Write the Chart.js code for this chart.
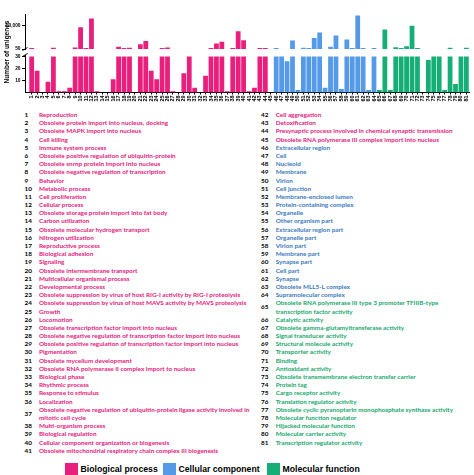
<!DOCTYPE html>
<html>
<head>
<meta charset="utf-8">
<script src="https://cdn.jsdelivr.net/npm/chart.js@4.4.1/dist/chart.umd.min.js"></script>
<style>
  body { margin: 0; background: #fff; width: 474px; height: 475px; overflow: hidden; position: relative; font-family: Lato, "Liberation Sans", sans-serif; }
  #plot { position: absolute; left: 0; top: 0; }
  .terms { position: absolute; top: 111px; font-size: 6.35px; font-weight: bold; line-height: 8.18px; }
  .terms .row { display: flex; align-items: center; }
  .terms .num { flex: 0 0 auto; color: #000; }
  .terms .txt { white-space: pre; }
  .legend { position: absolute; top: 462px; height: 13px; font-family: "Liberation Sans", Arial, sans-serif; font-weight: bold; font-size: 8.7px; color: #000; }
  .legend i { position: absolute; top: 1px; width: 13px; height: 12px; }
  .legend span { position: absolute; top: 1.5px; white-space: nowrap; }
</style>
</head>
<body>
<canvas id="plot" width="474" height="110"></canvas>
<div class="terms" id="colLeft" style="left:24.5px"></div>
<div class="terms" id="colRight" style="left:261px"></div>
<div id="legend"></div>
<script>
// Названия GO-терминов (подписи под графиком)
const termNames = [
  "Reproduction",
  "Obsolete protein import into nucleus, docking",
  "Obsolete MAPK import into nucleus",
  "Cell killing",
  "Immune system process",
  "Obsolete positive regulation of ubiquitin-protein",
  "Obsolete snrnp protein import into nucleus",
  "Obsolete negative regulation of transcription",
  "Behavior",
  "Metabolic process",
  "Cell proliferation",
  "Cellular process",
  "Obsolete storage protein import into fat body",
  "Carbon utilization",
  "Obsolete molecular hydrogen transport",
  "Nitrogen utilization",
  "Reproductive process",
  "Biological adhesion",
  "Signaling",
  "Obsolete intermembrane transport",
  "Multicellular organismal process",
  "Developmental process",
  "Obsolete suppression by virus of host RIG-I activity by RIG-I proteolysis",
  "Obsolete suppression by virus of host MAVS activity by MAVS proteolysis",
  "Growth",
  "Locomotion",
  "Obsolete transcription factor import into nucleus",
  "Obsolete negative regulation of transcription factor import into nucleus",
  "Obsolete positive regulation of transcription factor import into nucleus",
  "Pigmentation",
  "Obsolete mycelium development",
  "Obsolete RNA polymerase II complex import to nucleus",
  "Biological phase",
  "Rhythmic process",
  "Response to stimulus",
  "Localization",
  "Obsolete negative regulation of ubiquitin-protein ligase activity involved in\nmitotic cell cycle",
  "Multi-organism process",
  "Biological regulation",
  "Cellular component organization or biogenesis",
  "Obsolete mitochondrial respiratory chain complex III biogenesis",
  "Cell aggregation",
  "Detoxification",
  "Presynaptic process involved in chemical synaptic transmission",
  "Obsolete RNA polymerase III complex import into nucleus",
  "Extracellular region",
  "Cell",
  "Nucleoid",
  "Membrane",
  "Virion",
  "Cell junction",
  "Membrane-enclosed lumen",
  "Protein-containing complex",
  "Organelle",
  "Other organism part",
  "Extracellular region part",
  "Organelle part",
  "Virion part",
  "Membrane part",
  "Synapse part",
  "Cell part",
  "Synapse",
  "Obsolete MLL5-L complex",
  "Supramolecular complex",
  "Obsolete RNA polymerase III type 3 promoter TFIIIB-type\ntranscription factor activity",
  "Catalytic activity",
  "Obsolete gamma-glutamyltransferase activity",
  "Signal transducer activity",
  "Structural molecule activity",
  "Transporter activity",
  "Binding",
  "Antioxidant activity",
  "Obsolete transmembrane electron transfer carrier",
  "Protein tag",
  "Cargo receptor activity",
  "Translation regulator activity",
  "Obsolete cyclic pyranopterin monophosphate synthase activity",
  "Molecular function regulator",
  "Hijacked molecular function",
  "Molecular carrier activity",
  "Transcription regulator activity",
];

// Число унигенов для каждого термина (оценка по картинке)
const unigeneCounts = [
  500, 18, 0, 9, 600, 1, 1, 4, 700, 9300,
  450, 13100, 1, 0, 0, 11, 1000, 450, 600, 0,
  2100, 3500, 18, 11, 450, 700, 1, 0, 16, 30,
  4, 0, 14, 450, 2400, 3100, 1, 500, 7600, 3800,
  1, 4, 450, 450, 0, 500, 30, 26, 3700, 2,
  600, 450, 4800, 7100, 4, 1000, 5800, 3, 4100, 450,
  14400, 450, 2, 450, 2, 8400, 2, 750, 500, 1200,
  10000, 450, 0, 27, 30, 30, 2, 600, 7, 30,
  600,
];

// Группы онтологии: названия, размеры (по порядку терминов), цвета
const groupNames = ["Biological process", "Cellular component", "Molecular function"];
const groupSizes = [45, 19, 17];
const groupBarColors = ["#EA1E7D", "#559AE8", "#16AE77"];
const groupTextColors = ["#E3187C", "#3B79BE", "#16A86B"];

// Подписи осей Y для нижней и верхней части (разрыв оси)
const lowTicks = [10, 20, 30];
const highTicks = [50, 5000, 10000, 15000];
const LOW_CAP = 30;
const HIGH_BASE = 50;

const groupIndex = [];
groupSizes.forEach((n, g) => {
  for (let k = 0; k < n; k++) groupIndex.push(g);
});
const barColors = groupIndex.map((g) => groupBarColors[g]);

// Метки разрыва на оси Y
const axisBreak = {
  id: "axisBreak",
  afterDraw(chart) {
    const { ctx, chartArea, scales } = chart;
    const x = chartArea.left;
    ctx.save();
    ctx.strokeStyle = "#000";
    ctx.lineWidth = 1;
    [scales.yHigh.bottom, scales.yLow.top].forEach((y) => {
      ctx.beginPath();
      ctx.moveTo(x - 2.5, y + 1.5);
      ctx.lineTo(x + 2.5, y - 1.5);
      ctx.stroke();
    });
    ctx.restore();
  },
};

const tickFont = { family: "'Liberation Sans', Arial, sans-serif", size: 4.8, weight: "bold" };
const axisGrid = { drawOnChartArea: false, drawTicks: true, tickLength: 3, color: "#000", offset: false };

new Chart(document.getElementById("plot"), {
  type: "bar",
  data: {
    datasets: [
      {
        label: "low",
        data: unigeneCounts.map((v, i) => ({ x: i + 1, y: Math.min(v, LOW_CAP) })),
        yAxisID: "yLow",
        backgroundColor: barColors,
        grouped: false,
        barPercentage: 0.88,
        categoryPercentage: 1,
      },
      {
        label: "high",
        data: unigeneCounts.map((v, i) => ({ x: i + 1, y: v > HIGH_BASE ? [HIGH_BASE, v] : null })),
        yAxisID: "yHigh",
        backgroundColor: barColors,
        grouped: false,
        barPercentage: 0.88,
        categoryPercentage: 1,
      },
    ],
  },
  options: {
    responsive: false,
    animation: false,
    events: [],
    layout: { padding: { left: 0, right: 4, top: 14, bottom: 0 } },
    plugins: { legend: { display: false }, tooltip: { enabled: false } },
    scales: {
      x: {
        type: "linear",
        min: -0.23,
        max: 81.6,
        offset: false,
        grid: { ...axisGrid, tickLength: 2 },
        border: { color: "#000", width: 1 },
        afterBuildTicks: (scale) => {
          scale.ticks = unigeneCounts.map((_, i) => ({ value: i + 1 }));
        },
        afterFit: (scale) => {
          scale.height = 17.5;
        },
        ticks: {
          autoSkip: false,
          minRotation: 90,
          maxRotation: 90,
          padding: 1,
          color: "#000",
          font: { family: "'Liberation Sans', Arial, sans-serif", size: 5.5, weight: "bold" },
          callback: (v) => String(v),
        },
      },
      yLow: {
        type: "linear",
        position: "left",
        stack: "v",
        stackWeight: 37.5,
        min: 0,
        max: 31.2,
        grid: axisGrid,
        border: { color: "#000", width: 1 },
        afterBuildTicks: (scale) => {
          scale.ticks = lowTicks.map((v) => ({ value: v }));
        },
        afterFit: (scale) => {
          scale.width = 25;
        },
        ticks: { color: "#000", padding: 1.5, font: tickFont },
      },
      ySpacer: {
        type: "linear",
        position: "left",
        stack: "v",
        stackWeight: 6,
        display: true,
        grid: { display: false },
        border: { display: false },
        ticks: { display: false },
        afterFit: (scale) => {
          scale.width = 25;
        },
        title: {
          display: true,
          text: "Number of unigenes",
          color: "#000",
          padding: { top: 3.6, bottom: 0 },
          font: { family: "'Liberation Sans', Arial, sans-serif", size: 6.5, weight: "bold" },
        },
      },
      yHigh: {
        type: "linear",
        position: "left",
        stack: "v",
        stackWeight: 35,
        min: HIGH_BASE,
        max: 15000,
        grid: axisGrid,
        border: { color: "#000", width: 1 },
        afterBuildTicks: (scale) => {
          scale.ticks = highTicks.map((v) => ({ value: v }));
        },
        afterFit: (scale) => {
          scale.width = 25;
        },
        ticks: { color: "#000", padding: 1.5, font: tickFont },
      },
    },
  },
  plugins: [axisBreak],
});

// Нумерованный список терминов в две колонки
function buildColumn(el, from, to, numWidth) {
  for (let i = from; i < to; i++) {
    const row = document.createElement("div");
    row.className = "row";
    const num = document.createElement("span");
    num.className = "num";
    num.style.width = numWidth + "px";
    num.textContent = i + 1;
    const txt = document.createElement("span");
    txt.className = "txt";
    txt.style.color = groupTextColors[groupIndex[i]];
    txt.textContent = termNames[i];
    row.appendChild(num);
    row.appendChild(txt);
    el.appendChild(row);
  }
}
buildColumn(document.getElementById("colLeft"), 0, 41, 14.5);
buildColumn(document.getElementById("colRight"), 41, 81, 14.7);

// Легенда
const legendPos = [65, 163, 267];
const legend = document.getElementById("legend");
groupNames.forEach((name, g) => {
  const box = document.createElement("div");
  box.className = "legend";
  box.style.left = legendPos[g] + "px";
  const sw = document.createElement("i");
  sw.style.left = "0px";
  sw.style.background = groupBarColors[g];
  const label = document.createElement("span");
  label.style.left = "15.5px";
  label.textContent = name;
  box.appendChild(sw);
  box.appendChild(label);
  legend.appendChild(box);
});
</script>
</body>
</html>
